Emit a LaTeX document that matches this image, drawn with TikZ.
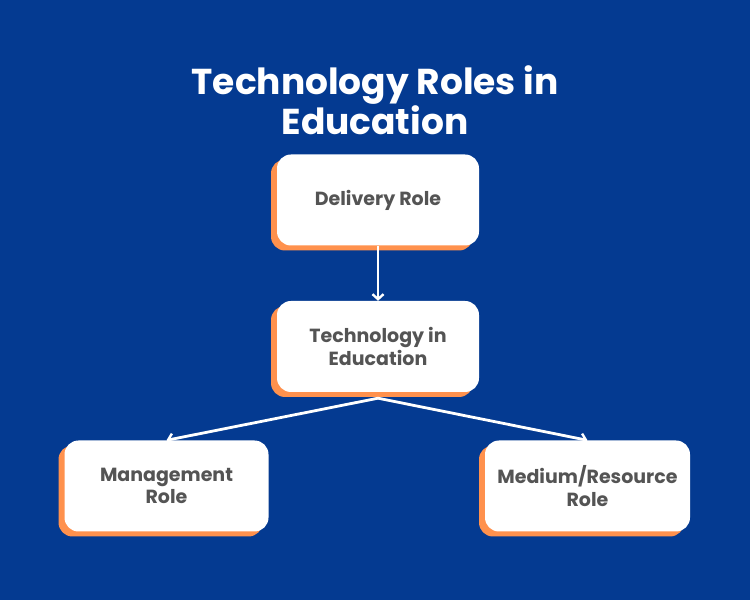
\documentclass[tikz,border=0pt]{standalone}
\usepackage{fontspec}
\setmainfont{Poppins}
\usetikzlibrary{positioning,shadows,arrows.meta}
\definecolor{bgblue}{RGB}{4,58,145}
\definecolor{accent}{RGB}{255,145,77}
\definecolor{textgrey}{RGB}{84,84,84}

\begin{document}
\begin{tikzpicture}[x=1pt,y=1pt,on grid,
		role/.style={rectangle, rounded corners=14pt, fill=white, minimum width=202pt, minimum height=91pt,
			align=center, text=textgrey, font=\fontsize{19}{22.5}\selectfont\bfseries,
			drop shadow={shadow xshift=-6pt, shadow yshift=-5pt, fill=accent, opacity=1}},
		link/.style={draw=white, line width=2.8pt, -{Straight Barb[length=5pt,width=11pt,line width=2.4pt]}}]
			\fill[bgblue] (0,0) rectangle (750,600);
			\node[text=white, align=center, font=\fontsize{36}{40}\selectfont\bfseries] (title) at (375,500) {Technology Roles in\\Education};
			\node[role] (delivery) at (378,400) {Delivery Role};
			\node[role] (tech) [below=146.5pt of delivery] {Technology in\\Education};
			\node[role, minimum width=204pt] (mgmt) [below left=139.5pt and 211.5pt of tech] {Management\\Role};
			\node[role, minimum width=205pt] (medium) [below right=139.5pt and 209.5pt of tech] {Medium/Resource\\Role};
			\draw[link] (delivery) -- (tech);
			\coordinate (fork) at ([yshift=-6pt]tech.south);
			\draw[link] (fork) -- (mgmt.north);
			\draw[link] (fork) -- (medium.north);
		\end{tikzpicture}
\end{document}
